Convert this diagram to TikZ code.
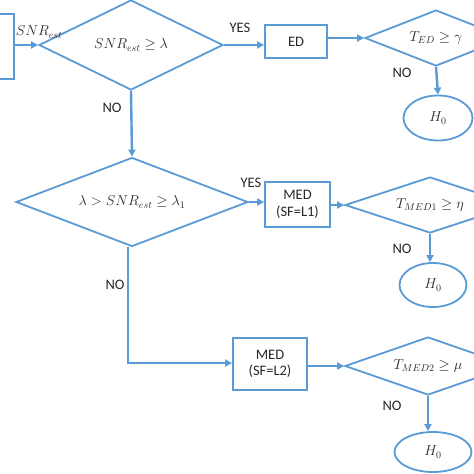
\documentclass[tikz,border=0pt]{standalone}
\usepackage{fontspec}
\setmainfont{Carlito}
\usetikzlibrary{shapes.geometric,arrows.meta}
\definecolor{fc}{RGB}{91,155,213}
\definecolor{tx}{RGB}{40,40,40}
\begin{document}
\begin{tikzpicture}[x=1pt,y=-1pt,
  font=\fontsize{14.5}{16.5}\selectfont, text=tx,
  dia/.style={draw=fc,line width=1.8pt,diamond,inner sep=0pt,aspect=2},
  boxn/.style={draw=fc,line width=1.8pt,rectangle,inner sep=0pt,align=center},
  ell/.style={draw=fc,line width=1.8pt,ellipse,inner sep=0pt},
  conn/.style={draw=fc,line width=2.4pt,-{Triangle[length=7pt,width=7pt]}},
  lbl/.style={inner sep=0pt}]
\useasboundingbox (0,0) rectangle (474,474);
\clip (0,0) rectangle (474,474);
% partially visible input box
\node[boxn,minimum width=60pt,minimum height=65pt] (in) at (-16,46.5) {};
% decisions
\node[dia,minimum width=184pt,minimum height=90pt] (d1) at (131,45) {$SNR_{est}\geq\lambda$};
\node[dia,minimum width=142pt,minimum height=56pt] (d2) at (436,38) {$T_{ED}\geq\gamma$};
\node[dia,minimum width=232pt,minimum height=89pt] (d3) at (132,202) {$\lambda>SNR_{est}\geq\lambda_1$};
\node[dia,minimum width=170pt,minimum height=56pt] (d4) at (430,205) {$T_{MED1}\geq\eta$};
\node[dia,minimum width=166pt,minimum height=58pt] (d5) at (428,366) {$T_{MED2}\geq\mu$};
% boxes
\node[boxn,minimum width=62pt,minimum height=33pt] (ed) at (296,41.5) {ED};
\node[boxn,minimum width=65pt,minimum height=45pt] (m1) at (297.5,204.5) {MED\\(SF=L1)};
\node[boxn,minimum width=74pt,minimum height=52pt] (m2) at (270,364) {MED\\(SF=L2)};
% ellipses
\node[ell,minimum width=69pt,minimum height=45pt] (h1) at (438,118) {$H_0$};
\node[ell,minimum width=67pt,minimum height=44pt] (h2) at (433,285) {$H_0$};
\node[ell,minimum width=77pt,minimum height=40pt] (h3) at (433,452) {$H_0$};
% connectors
\draw[conn] (in.east |- d1.west) -- (d1.west);
\draw[conn] (d1.east) -- (ed.west |- d1.east);
\draw[conn] (ed.east |- d2.west) -- (d2.west);
\draw[conn] (d2.south) -- (h1.north);
\draw[conn] (d1.south) -- (d3.north);
\draw[conn] (d3.east) -- (m1.west |- d3.east);
\draw[conn] (m1.east |- d4.west) -- (d4.west);
\draw[conn] (d4.south) -- (d4.south |- h2.north);
\coordinate (c1) at (128,363);
\draw[conn] (d3.south -| c1) -- (c1) -- (m2.west |- c1);
\draw[conn] (m2.east |- d5.west) -- (d5.west);
\draw[conn] (d5.south) -- (d5.south |- h3.north);
% labels
\node[lbl] (l1) at (39,32) {$SNR_{est}$};
\node[lbl] (y1) at (240,28) {YES};
\node[lbl] (n1) at (112,108) {NO};
\node[lbl] (n2) at (402,73) {NO};
\node[lbl] (y2) at (251,183) {YES};
\node[lbl] (n3) at (115,285) {NO};
\node[lbl] (n4) at (402,249) {NO};
\node[lbl] (n5) at (392,406) {NO};
\end{tikzpicture}
\end{document}
